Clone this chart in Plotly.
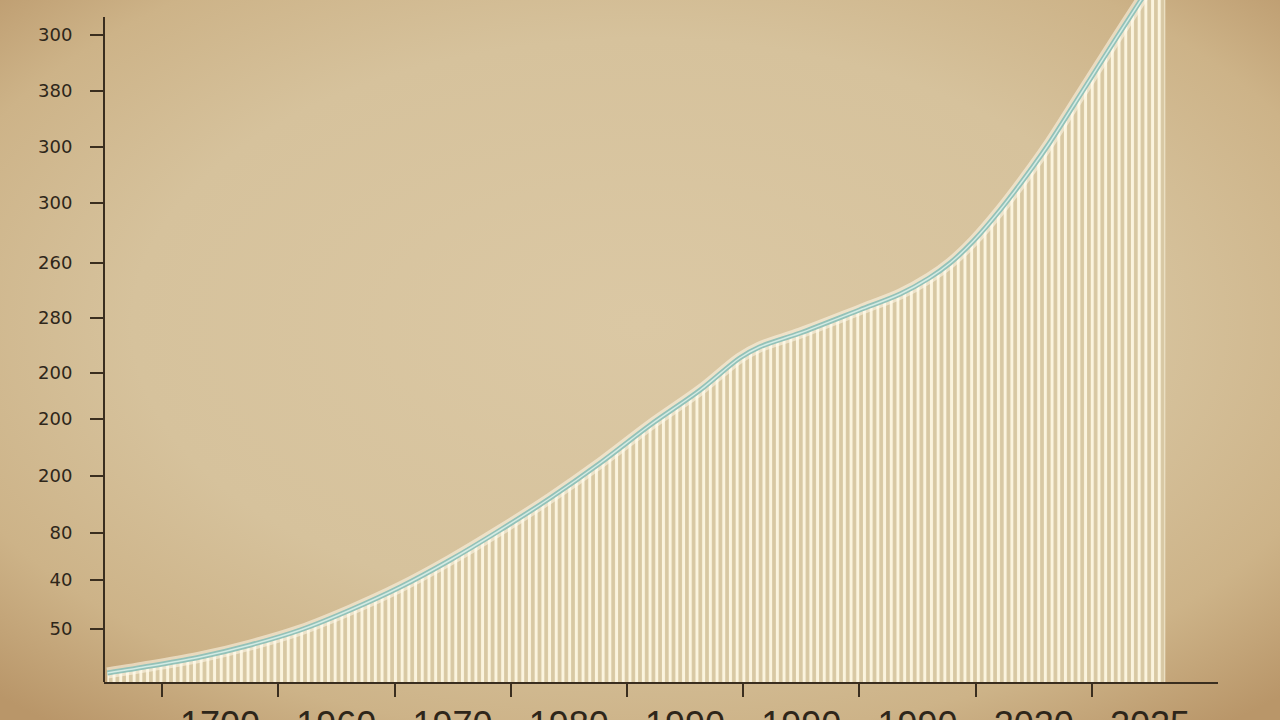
import base64
import plotly.graph_objects as go

# ---- data ----
x_tick_pos = [0, 1, 2, 3, 4, 5, 6, 7, 8]
x_labels = ["1700", "1960", "1970", "1980", "1990", "1990", "1990", "2020", "2025"]

y_tick_vals = [26.5, 51, 74.5, 103, 131.5, 154.5, 182, 209.5, 239.5, 267.5, 295.5, 323.5]
y_tick_text = ["50", "40", "80", "200", "200", "200", "280", "260", "300", "300", "380", "300"]

curve_x = [-0.47, -0.10, 0.33, 0.76, 1.19, 1.62, 2.05, 2.48, 2.91, 3.34, 3.77, 4.20,
           4.63, 4.97, 5.14, 5.49, 6.00, 6.35, 6.60, 6.78, 6.98, 7.21, 7.49, 7.64,
           7.92, 8.21, 8.41, 8.63]
curve_y = [4.5, 8, 12.5, 18.5, 26, 36, 47.5, 61, 76, 92, 109.5, 128.5,
           146, 162, 167.5, 174.5, 186, 194, 202, 209.5, 220.5, 236, 257.5, 270,
           295.5, 322, 340, 359.5]

X_RANGE = [-0.499, 9.084]
Y_RANGE = [0, 341]
Y_AXIS_TOP = 332.5

AX = "#3a2e1f"
TXT = "#2e261a"

# ---- background vignette (svg radial gradient) ----
svg = """<svg xmlns='http://www.w3.org/2000/svg' width='1280' height='720' viewBox='0 0 1280 720' preserveAspectRatio='none'>
<defs><radialGradient id='g' cx='0.5' cy='0.45' r='0.72'>
<stop offset='0' stop-color='#dbc8a4'/>
<stop offset='0.55' stop-color='#d6c29c'/>
<stop offset='0.8' stop-color='#cdb388'/>
<stop offset='1' stop-color='#b99669'/>
</radialGradient></defs>
<rect width='1280' height='720' fill='url(#g)'/></svg>"""
bg_src = "data:image/svg+xml;base64," + base64.b64encode(svg.encode()).decode()

W, H = 1280, 720
ML, MR, MT, MB = 104, 62, 0, 38
pw, ph = W - ML - MR, H - MT - MB

fig = go.Figure()

# striped fill
fig.add_trace(go.Scatter(
    x=curve_x, y=curve_y, mode="lines",
    line=dict(width=0, shape="spline", smoothing=0.9, color="rgba(0,0,0,0)"),
    fill="tozeroy",
    fillpattern=dict(shape="|", size=6.7, solidity=0.45,
                     fgcolor="#fbf4de", bgcolor="#d8c8a3", fgopacity=1),
    hoverinfo="skip", showlegend=False,
))
# glow
fig.add_trace(go.Scatter(
    x=curve_x, y=curve_y, mode="lines",
    line=dict(width=11, shape="spline", smoothing=0.9, color="rgba(255,250,235,0.55)"),
    hoverinfo="skip", showlegend=False,
))
# core line
fig.add_trace(go.Scatter(
    x=curve_x, y=curve_y, mode="lines",
    line=dict(width=5, shape="spline", smoothing=0.9, color="#93c2b9"),
    hoverinfo="skip", showlegend=False,
))
fig.add_trace(go.Scatter(
    x=curve_x, y=curve_y, mode="lines",
    line=dict(width=1.5, shape="spline", smoothing=0.9, color="#d3ebe4"),
    hoverinfo="skip", showlegend=False,
))

fig.update_layout(
    width=W, height=H,
    autosize=False,
    margin=dict(l=ML, r=MR, t=MT, b=MB, pad=0, autoexpand=False),
    paper_bgcolor="#d5c09a",
    plot_bgcolor="rgba(0,0,0,0)",
    showlegend=False,
    hovermode=False,
    images=[dict(source=bg_src, xref="paper", yref="paper",
                 x=-ML / pw, y=1 + MT / ph, sizex=W / pw, sizey=H / ph,
                 xanchor="left", yanchor="top", sizing="stretch", layer="below")],
    xaxis=dict(
        range=X_RANGE, showgrid=False, zeroline=False, automargin=False,
        showline=True, linecolor=AX, linewidth=2,
        tickmode="array", tickvals=x_tick_pos, ticktext=x_labels,
        ticks="outside", ticklen=13, tickwidth=2, tickcolor=AX,
        ticklabelshift=58, ticklabelstandoff=-3,
        tickfont=dict(family="Liberation Sans", size=36, color=TXT),
        fixedrange=True,
    ),
    yaxis=dict(
        range=Y_RANGE, showgrid=False, zeroline=False, showline=False, automargin=False,
        tickmode="array", tickvals=y_tick_vals, ticktext=y_tick_text,
        ticks="outside", ticklen=13, tickwidth=2, tickcolor=AX,
        ticklabelstandoff=14,
        tickfont=dict(family="DejaVu Sans", size=18, color=TXT),
        fixedrange=True,
    ),
    shapes=[dict(type="line", xref="paper", yref="y", x0=0, x1=0,
                 y0=0, y1=Y_AXIS_TOP, line=dict(color=AX, width=2), layer="above")],
)

fig.write_html(
    "out.html",
    config={"displayModeBar": False, "staticPlot": True},
    post_script="document.body.style.margin='0';document.body.style.overflow='hidden';",
)
